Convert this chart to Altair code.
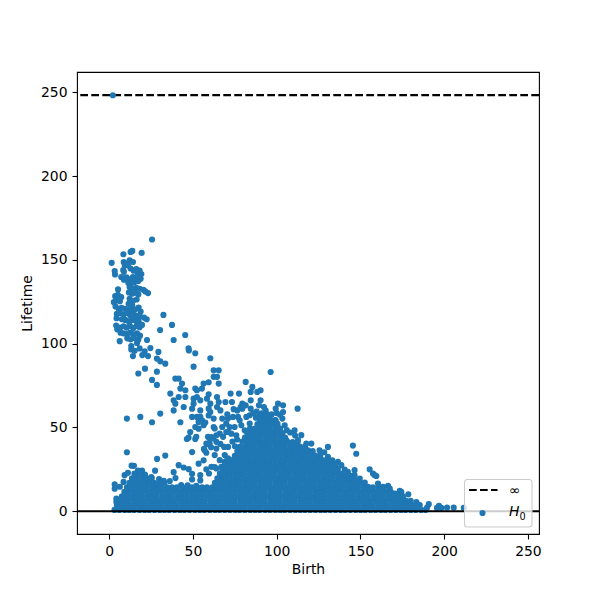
"""Persistence diagram, birth against lifetime."""

import altair as alt
import pandas as pd

BLUE = "#1f77b4"
FONT = "DejaVu Sans"

x_ticks = [0, 50, 100, 150, 200, 250]
y_ticks = [0, 50, 100, 150, 200, 250]
x_domain = [-19.2, 256.6]
y_domain = [-13.6, 262.2]
infinity_level = [248.4]
zero_level = [0]
legend_labels = ["∞", "H", "0"]

top_point = [(2.2, 248.3)]

upper_cluster = [
    (25.6, 162.2), (13.8, 155.4), (12.8, 154.8), (8.5, 153.4), (19.4, 154.2),
    (1.5, 148.3), (3.3, 143.4), (3.5, 141.3), (8.7, 148.8), (9.3, 146.8),
    (10.2, 147.8), (12.2, 149.8), (14.2, 148.8), (11.2, 146.8), (8.4, 143.9),
    (8.8, 142.9), (12.8, 144.9), (14.6, 143.6), (16.2, 144.6), (18.2, 143.6),
    (17.2, 141.8), (19.2, 141.6), (16.6, 139.8), (18.8, 138.8), (7.2, 139.8),
    (8.8, 138.2), (10.4, 139.6), (12.2, 138.4), (14.2, 139.8), (15.2, 136.8),
    (11.4, 136.4), (13.4, 136.2), (17.4, 137.4), (5.3, 132.4), (12.2, 133.8),
    (14.2, 132.8), (16.2, 133.4), (18.2, 132.8), (20.4, 132.2), (21.6, 131.2),
    (23.2, 130.2), (11.8, 130.6), (13.6, 129.8), (15.6, 130.4), (17.4, 129.4),
    (3.6, 128.4), (5.2, 129.2), (7.2, 127.8), (4.2, 125.8), (2.8, 124.8),
    (6.4, 125.4), (12.2, 126.8), (14.2, 125.6), (16.4, 126.4), (11.6, 123.8),
    (13.8, 122.8), (3.8, 122.2), (5.6, 120.8), (7.4, 121.4), (9.6, 120.8),
    (11.4, 120.2), (13.4, 119.6), (15.4, 120.4), (17.6, 121.6), (18.8, 119.2),
    (4.6, 117.8), (6.6, 118.2), (8.8, 117.6), (10.6, 118.4), (12.6, 116.8),
    (14.6, 117.4), (16.6, 116.6), (18.4, 116.2), (20.8, 115.6), (22.4, 114.6),
    (4.4, 115.2), (7.6, 114.6), (9.6, 114.2), (11.6, 113.4), (13.6, 114.2),
    (15.6, 113.8), (17.6, 113.2), (4.2, 110.8), (4.8, 108.6), (6.6, 109.6),
    (8.6, 110.4), (10.4, 109.6), (12.4, 110.6), (14.4, 109.4), (16.4, 110.6),
    (18.2, 109.8), (19.6, 111.2), (6.8, 106.6), (8.6, 106.2), (10.6, 105.8),
    (12.6, 106.6), (14.6, 105.6), (16.6, 106.2), (18.4, 104.8), (10.8, 103.2),
    (12.8, 102.6), (14.8, 103.4), (17.4, 102.4), (6.3, 101.5), (22.6, 102.2),
    (13.2, 98.6), (13.2, 96.6), (15.2, 95.8), (14.2, 92.6), (18.2, 97.2),
    (19.8, 93.2), (23.2, 92.6), (24.6, 97.4), (16.6, 100.4), (21.2, 95.4),
]

diagonal_points = [
    (32.4, 117.2), (37.5, 111.2), (30.4, 108.2), (45.4, 105.2), (38.5, 102.2),
    (47.4, 97.2), (47.6, 96.0), (51.4, 94.3), (29.4, 95.1), (28.5, 91.1),
    (30.5, 89.5), (33.5, 88.1), (60.4, 91.3), (50.4, 86.3), (62.4, 84.1),
    (65.4, 84.1), (28.5, 83.3), (21.4, 85.1), (17.4, 82.2), (25.6, 78.4),
    (28.5, 75.4), (62.4, 80.2), (64.4, 80.2), (39.5, 79.2), (41.5, 79.2),
    (43.5, 76.2), (42.5, 73.2), (45.5, 72.2), (65.4, 76.2), (59.4, 77.0),
    (56.4, 76.2), (55.4, 73.2), (51.4, 73.2), (52.4, 72.2), (81.5, 77.2),
    (96.4, 83.1), (85.5, 74.2), (84.5, 71.2), (90.4, 72.2), (88.4, 71.2),
    (36.5, 70.2), (72.5, 70.2), (77.5, 70.2), (59.4, 69.8), (58.4, 67.2),
    (41.5, 68.2), (45.5, 68.2), (38.5, 66.2), (39.5, 64.2), (50.4, 67.2),
    (52.4, 68.2), (54.4, 66.2), (50.4, 64.2), (64.4, 68.2), (65.4, 65.2),
    (69.4, 65.2), (73.3, 65.2), (84.5, 66.2), (79.5, 64.2), (81.5, 63.2),
    (78.5, 62.2), (90.4, 66.2), (89.4, 63.2), (92.4, 62.2), (93.4, 60.2),
    (100.8, 64.2), (103.8, 63.2), (99.4, 61.2), (103.8, 59.2), (112.5, 61.2),
    (44.5, 62.2), (49.5, 61.2), (38.5, 60.2), (54.4, 60.2), (60.4, 64.2),
    (59.4, 61.2), (64.4, 62.2), (66.4, 60.2), (74.3, 60.9), (70.5, 57.9),
    (79.5, 61.2), (84.5, 61.2), (76.5, 60.2), (60.4, 59.2), (59.4, 57.2),
    (62.4, 55.3), (10.6, 55.3), (18.6, 56.3), (25.6, 53.1), (30.5, 58.3),
    (42.5, 53.1), (49.5, 56.3), (52.4, 56.3), (54.4, 56.3), (55.4, 54.3),
    (53.4, 53.3), (51.4, 50.3), (53.4, 49.3), (56.4, 51.3), (57.4, 52.9),
    (48.4, 47.3), (47.4, 43.9), (46.4, 43.1), (51.4, 43.1), (62.4, 50.3),
    (67.5, 55.3), (67.5, 50.3), (73.9, 56.3), (70.9, 55.3), (76.9, 56.3),
    (69.9, 52.3), (77.9, 54.3), (81.9, 56.3), (83.9, 57.3), (89.8, 57.3),
    (92.8, 56.3), (95.8, 55.3), (99.4, 54.3), (103.4, 55.3), (104.8, 51.3),
    (101.8, 49.3), (110.7, 48.3), (114.7, 45.4), (112.7, 42.4), (105.7, 42.4),
    (66.0, 46.3), (64.0, 45.3), (69.9, 47.3), (71.9, 50.3), (74.9, 50.3),
    (72.9, 46.3), (75.9, 45.3), (78.9, 51.3), (83.9, 52.3), (80.9, 48.3),
    (61.0, 44.3), (60.0, 43.4), (59.0, 44.4), (52.0, 44.4), (63.0, 49.4),
    (62.0, 43.4), (60.0, 40.4), (58.0, 40.4), (64.0, 41.4), (68.0, 44.4),
    (71.0, 47.4), (57.0, 36.4), (58.0, 34.9), (63.0, 33.5), (66.0, 30.5),
    (69.0, 33.5), (64.0, 37.4), (71.0, 38.4), (61.0, 26.5), (64.0, 25.5),
    (67.0, 26.5), (69.0, 29.5), (71.0, 31.5), (56.6, 37.2), (58.6, 40.0),
    (60.8, 38.2), (66.4, 40.2), (68.6, 38.4), (73.6, 41.6), (76.4, 42.8),
    (69.2, 27.8), (67.6, 25.1), (70.5, 30.5), (75.0, 33.0), (76.5, 35.8),
    (75.1, 38.8), (78.0, 38.5), (79.5, 41.5), (81.1, 43.9), (82.5, 46.6),
    (84.1, 49.5), (87.0, 49.3), (88.5, 52.0), (90.0, 54.7), (93.1, 54.4),
    (96.0, 54.6), (99.1, 54.4), (86.0, 58.5), (88.0, 59.5), (91.0, 58.5),
    (94.0, 58.2), (97.0, 57.8), (100.0, 58.6), (102.0, 57.6), (106.0, 48.4),
    (108.0, 47.0), (111.0, 45.2), (87.6, 55.8),
]

low_edge_points = [
    (10.6, 35.2), (28.6, 31.2), (33.5, 33.2), (49.5, 35.3), (53.4, 28.4),
    (56.4, 30.4), (41.5, 27.5), (44.5, 26.1), (47.5, 25.1), (27.4, 24.2),
    (38.5, 23.3), (39.6, 19.8), (49.5, 22.3), (49.5, 19.0), (54.4, 21.5),
    (54.4, 18.4), (58.0, 25.0), (59.6, 22.5), (63.0, 26.4), (13.4, 27.2),
    (14.8, 27.1), (9.2, 21.5), (11.2, 22.9), (17.2, 24.2), (19.6, 24.2),
    (3.3, 16.0), (3.3, 13.4), (4.3, 7.5), (4.3, 5.5), (36.2, 18.0),
    (21.4, 21.8), (25.2, 20.4), (29.8, 19.2), (32.6, 18.2), (43.0, 15.6),
    (46.8, 15.4), (52.0, 15.2), (8.6, 17.5), (6.4, 14.6),
]

right_edge_points = [
    (117.7, 40.4), (120.7, 40.4), (130.6, 38.4), (145.5, 39.2), (147.5, 34.3),
    (118.7, 36.4), (125.6, 36.4), (130.6, 32.5), (136.6, 29.5), (138.6, 27.5),
    (142.5, 23.5), (146.5, 24.5), (146.5, 21.5), (148.5, 18.5), (155.5, 25.0),
    (157.5, 22.5), (159.5, 21.0), (158.5, 21.5), (149.6, 19.5), (152.6, 17.1),
    (154.5, 14.5), (160.5, 16.5), (163.5, 14.5), (166.5, 15.1), (167.5, 13.5),
    (173.5, 12.1), (170.5, 10.5), (174.4, 11.5), (178.6, 10.1), (176.4, 6.5),
    (183.4, 5.5), (185.4, 3.6), (190.8, 4.2), (189.8, 2.2), (196.9, 3.2),
    (195.7, 2.0), (198.3, 2.0), (201.7, 2.2), (205.7, 2.2), (211.7, 2.0),
    (128.4, 35.2), (133.2, 30.4), (140.6, 24.8), (143.8, 21.2),
]

row_01 = [
    3.2, 6.1, 9.3, 12.0, 14.8, 18.1, 21.2, 23.9, 27.1, 30.2, 33.0, 35.8, 39.1,
    42.2, 44.9, 48.0, 51.2, 54.1, 56.8, 60.1, 63.2, 65.9, 69.0, 72.1, 75.2,
    77.9, 81.0, 84.2, 87.1, 89.8, 93.1, 96.0, 99.2, 102.1, 104.8, 108.0, 111.2,
    114.1, 116.9, 120.0, 123.1, 126.2, 128.9, 132.0, 135.1, 138.2, 140.9,
    144.0, 147.2, 150.1, 152.8, 156.1, 159.0, 162.2, 164.9, 168.0, 171.1,
    174.2, 176.9, 180.1, 183.0, 186.2, 188.9,
]
row_03 = [
    4.6, 7.4, 10.6, 13.5, 16.4, 19.6, 22.4, 25.6, 28.5, 31.4, 34.6, 37.5, 40.4,
    43.6, 46.5, 49.4, 52.6, 55.5, 58.4, 61.6, 64.5, 67.4, 70.6, 73.5, 76.4,
    79.6, 82.5, 85.4, 88.6, 91.5, 94.4, 97.6, 100.5, 103.4, 106.6, 109.5,
    112.4, 115.6, 118.5, 121.4, 124.6, 127.5, 130.4, 133.6, 136.5, 139.4,
    142.6, 145.5, 148.4, 151.6, 154.5, 157.4, 160.6, 163.5, 166.4, 169.6,
    172.5, 175.4, 178.6, 181.5, 184.6,
]
row_06 = [
    6.2, 9.1, 11.8, 15.1, 18.0, 20.9, 24.2, 27.0, 29.9, 33.1, 36.0, 38.9, 42.2,
    45.0, 47.9, 51.1, 54.0, 56.9, 60.2, 63.0, 65.9, 69.1, 72.0, 74.9, 78.2,
    81.0, 83.9, 87.1, 90.0, 92.9, 96.2, 99.0, 101.9, 105.1, 108.0, 110.9,
    114.2, 117.0, 119.9, 123.1, 126.0, 128.9, 132.2, 135.0, 137.9, 141.1,
    144.0, 146.9, 150.2, 153.0, 155.9, 159.1, 162.0, 164.9, 168.2, 171.0,
    173.9, 177.1, 180.0,
]
row_09 = [
    7.6, 10.4, 13.6, 16.5, 19.4, 22.6, 25.5, 28.4, 31.6, 34.5, 37.4, 40.6,
    43.5, 46.4, 49.6, 52.5, 55.4, 58.6, 61.5, 64.4, 67.6, 70.5, 73.4, 76.6,
    79.5, 82.4, 85.6, 88.5, 91.4, 94.6, 97.5, 100.4, 103.6, 106.5, 109.4,
    112.6, 115.5, 118.4, 121.6, 124.5, 127.4, 130.6, 133.5, 136.4, 139.6,
    142.5, 145.4, 148.6, 151.5, 154.4, 157.6, 160.5, 163.4, 166.6, 169.5,
    172.4, 175.4,
]
row_12 = [
    9.1, 11.9, 15.1, 18.0, 20.9, 24.1, 27.0, 29.9, 33.1, 36.0, 38.9, 42.1,
    45.0, 47.9, 51.1, 54.0, 56.9, 60.1, 63.0, 65.9, 69.1, 72.0, 74.9, 78.1,
    81.0, 83.9, 87.1, 90.0, 92.9, 96.1, 99.0, 101.9, 105.1, 108.0, 110.9,
    114.1, 117.0, 119.9, 123.1, 126.0, 128.9, 132.1, 135.0, 137.9, 141.1,
    144.0, 146.9, 150.1, 153.0, 155.9, 159.1, 162.0, 164.9, 168.1,
]
row_14 = [
    10.6, 13.4, 16.6, 19.5, 22.4, 25.6, 28.5, 31.4, 34.6, 37.5, 40.4, 43.6,
    46.5, 49.4, 52.6, 55.5, 58.4, 61.6, 64.5, 67.4, 70.6, 73.5, 76.4, 79.6,
    82.5, 85.4, 88.6, 91.5, 94.4, 97.6, 100.5, 103.4, 106.6, 109.5, 112.4,
    115.6, 118.5, 121.4, 124.6, 127.5, 130.4, 133.6, 136.5, 139.4, 142.6,
    145.5, 148.4, 151.6, 154.5, 157.4, 160.6, 163.5,
]
row_17 = [
    12.1, 15.0, 17.9, 21.1, 24.0, 26.9, 30.1, 33.0, 63.1, 65.9, 69.0, 72.1,
    75.0, 77.9, 81.1, 84.0, 86.9, 90.1, 93.0, 95.9, 99.1, 102.0, 104.9, 108.1,
    111.0, 113.9, 117.1, 120.0, 122.9, 126.1, 129.0, 131.9, 135.1, 138.0,
    140.9, 144.1, 147.0, 150.0,
]
row_20 = [
    13.6, 16.4, 19.6, 22.5, 25.4, 64.6, 67.5, 70.4, 73.6, 76.5, 79.4, 82.6,
    85.5, 88.4, 91.6, 94.5, 97.4, 100.6, 103.5, 106.4, 109.6, 112.5, 115.4,
    118.6, 121.5, 124.4, 127.6, 130.5, 133.4, 136.6, 139.5, 142.4, 145.5,
]
row_22 = [
    15.1, 18.0, 66.1, 69.0, 71.9, 75.1, 78.0, 80.9, 84.1, 87.0, 89.9, 93.1,
    96.0, 98.9, 102.1, 105.0, 107.9, 111.1, 114.0, 116.9, 120.1, 123.0, 125.9,
    129.1, 132.0, 134.9, 138.1, 141.0,
]
row_25 = [
    70.6, 73.4, 76.6, 79.5, 82.4, 85.6, 88.5, 91.4, 94.6, 97.5, 100.4, 103.6,
    106.5, 109.4, 112.6, 115.5, 118.4, 121.6, 124.5, 127.4, 130.6, 133.5,
    136.5,
]
row_28 = [
    72.1, 75.0, 77.9, 81.1, 84.0, 86.9, 90.1, 93.0, 95.9, 99.1, 102.0, 104.9,
    108.1, 111.0, 113.9, 117.1, 120.0, 122.9, 126.1, 129.0, 131.9, 135.0,
]
row_31 = [
    73.6, 76.4, 79.6, 82.5, 85.4, 88.6, 91.5, 94.4, 97.6, 100.5, 103.4, 106.6,
    109.5, 112.4, 115.6, 118.5, 121.4, 124.6, 127.5, 130.5,
]
row_33 = [
    78.1, 81.0, 83.9, 87.1, 90.0, 92.9, 96.1, 99.0, 101.9, 105.1, 108.0, 110.9,
    114.1, 117.0, 119.9, 123.1, 126.0,
]
row_36 = [
    79.6, 82.4, 85.6, 88.5, 91.4, 94.6, 97.5, 100.4, 103.6, 106.5, 109.4,
    112.6, 115.5, 118.4, 121.5,
]
row_39 = [
    81.1, 84.0, 86.9, 90.1, 93.0, 95.9, 99.1, 102.0, 104.9, 108.1, 111.0,
    113.9, 117.0,
]
row_41 = [
    82.6, 85.4, 88.6, 91.5, 94.4, 97.6, 100.5, 103.4, 106.6, 109.5, 112.5,
]
row_44 = [84.1, 87.0, 89.9, 93.1, 96.0, 98.9, 102.1, 105.0]
row_47 = [85.6, 88.5, 91.4, 94.6, 97.5, 100.4, 103.5]
row_49 = [90.1, 93.0, 95.9, 99.1, 102.0]
row_52 = [91.6, 94.5, 97.4, 100.5]

mass_rows = [
    (0.8, row_01), (3.5, row_03), (6.2, row_06), (8.9, row_09), (11.6, row_12),
    (14.3, row_14), (17.0, row_17), (19.7, row_20), (22.4, row_22),
    (25.1, row_25), (27.8, row_28), (30.5, row_31), (33.2, row_33),
    (35.9, row_36), (38.6, row_39), (41.3, row_41), (44.0, row_44),
    (46.7, row_47), (49.4, row_49), (52.1, row_52),
]

pairs = top_point + upper_cluster + diagonal_points + low_edge_points + right_edge_points
for life, births in mass_rows:
    pairs += [(b, life) for b in births]
df_points = pd.DataFrame(pairs, columns=["birth", "life"])

x_scale = alt.Scale(domain=x_domain, nice=False, zero=False)
y_scale = alt.Scale(domain=y_domain, nice=False, zero=False)

axis_style = dict(
    grid=False,
    domain=False,
    tickColor="black",
    tickWidth=1.1,
    tickSize=5,
    labelColor="black",
    titleColor="black",
    labelFont=FONT,
    titleFont=FONT,
    labelFontSize=13.9,
    titleFontSize=13.9,
    titleFontWeight="normal",
    labelPadding=5,
    labelFlush=False,
)
x_axis = alt.Axis(values=x_ticks, title="Birth", titlePadding=5, **axis_style)
y_axis = alt.Axis(values=y_ticks, title="Lifetime", titlePadding=6, **axis_style)

points = (
    alt.Chart(df_points)
    .mark_circle(color=BLUE, size=38, opacity=1)
    .encode(
        alt.X("birth:Q", scale=x_scale, axis=x_axis),
        alt.Y("life:Q", scale=y_scale, axis=y_axis),
    )
)

infinity_line = (
    alt.Chart(pd.DataFrame({"life": infinity_level}))
    .mark_rule(color="black", strokeWidth=2.1, strokeDash=[7.7, 3.3])
    .encode(alt.Y("life:Q", scale=y_scale, axis=y_axis))
)
zero_line = (
    alt.Chart(pd.DataFrame({"life": zero_level}))
    .mark_rule(color="black", strokeWidth=2.1)
    .encode(alt.Y("life:Q", scale=y_scale, axis=y_axis))
)

# legend box drawn by hand: one dashed line and one dot entry do not fit one scale
label_rows = pd.DataFrame({"label": legend_labels})
legend_box = (
    alt.Chart(label_rows[:1])
    .mark_rect(fill="white", fillOpacity=0.8, stroke="#cccccc", strokeWidth=1.1, cornerRadius=3)
    .encode(x=alt.value(387.5), x2=alt.value(455), y=alt.value(407.5), y2=alt.value(455))
)
legend_dash = (
    alt.Chart(label_rows[:1])
    .mark_rule(color="black", strokeWidth=2.1, strokeDash=[7.7, 3.3])
    .encode(x=alt.value(392), x2=alt.value(420.5), y=alt.value(418))
)
legend_dot = (
    alt.Chart(label_rows[:1])
    .mark_circle(color=BLUE, size=38, opacity=1)
    .encode(x=alt.value(405.5), y=alt.value(441))
)
legend_infinity = (
    alt.Chart(label_rows[:1])
    .mark_text(align="left", baseline="middle", font=FONT, fontSize=13.9, color="black")
    .encode(x=alt.value(432), y=alt.value(419), text="label:N")
)
legend_h = (
    alt.Chart(label_rows[1:2])
    .mark_text(
        align="left", baseline="middle", font=FONT, fontSize=13.9,
        fontStyle="italic", color="black",
    )
    .encode(x=alt.value(432), y=alt.value(440), text="label:N")
)
legend_sub = (
    alt.Chart(label_rows[2:])
    .mark_text(align="left", baseline="middle", font=FONT, fontSize=9.7, color="black")
    .encode(x=alt.value(442.5), y=alt.value(445), text="label:N")
)

chart = (
    alt.layer(
        infinity_line,
        points,
        zero_line,
        legend_box,
        legend_dash,
        legend_dot,
        legend_infinity,
        legend_h,
        legend_sub,
    )
    .properties(
        width=462,
        height=462,
        background="white",
        autosize=alt.AutoSizeParams(type="none"),
        padding={"left": 69, "top": 64, "right": 53, "bottom": 58},
    )
    .configure_view(stroke="black", strokeWidth=1.1)
)

chart.save("out.html", embed_options={"renderer": "svg", "actions": False})
